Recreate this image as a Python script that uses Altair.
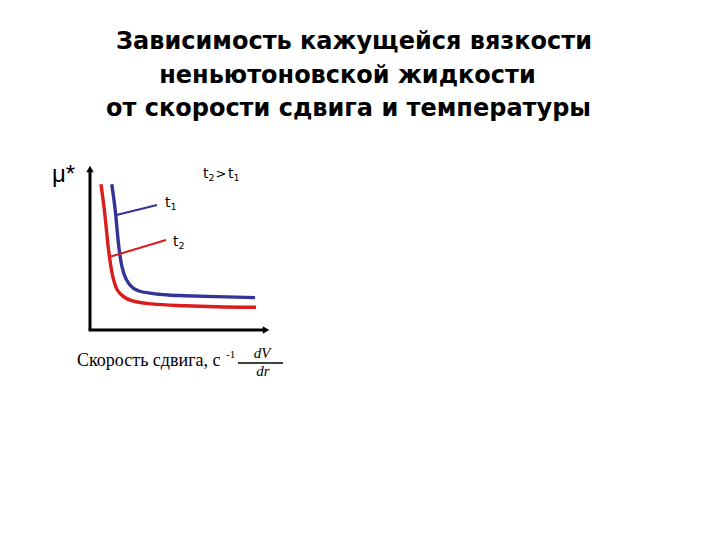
import altair as alt
import pandas as pd

# ---- data -------------------------------------------------------------
title_lines = ["Зависимость кажущейся вязкости",
               "неньютоновской жидкости",
               "от скорости сдвига и температуры"]

series_names = ["t1", "t2"]
series_colors = ["#333399", "#DC1C1C"]

# shear rate (arbitrary units) vs apparent viscosity (arbitrary units)
shear_t1 = [1.21, 1.43, 1.57, 1.72, 1.91, 2.22, 2.68, 3.43, 4.35, 5.28, 7.04, 9.17]
visc_t1 = [8.83, 6.97, 5.35, 4.14, 3.33, 2.73, 2.38, 2.22, 2.12, 2.08, 2.02, 1.96]

shear_t2 = [0.61, 0.83, 1.02, 1.21, 1.43, 1.76, 2.32, 3.43, 5.28, 7.04, 9.22]
visc_t2 = [8.83, 6.97, 4.95, 3.53, 2.62, 2.12, 1.78, 1.58, 1.47, 1.41, 1.38]

axis_min = 0
axis_max = 10

# ---- tables -----------------------------------------------------------
curves = pd.DataFrame({
    "shear": shear_t1 + shear_t2,
    "visc": visc_t1 + visc_t2,
    "series": [series_names[0]] * len(shear_t1) + [series_names[1]] * len(shear_t2),
    "order": list(range(len(shear_t1))) + list(range(len(shear_t2))),
})

xs = alt.Scale(domain=[0, 10], range=[82, 262], nice=False, zero=False)
ys = alt.Scale(domain=[0, 10], range=[322, 157], nice=False, zero=False)

base = alt.Chart(curves)

# axes
yaxis_line = alt.Chart(pd.DataFrame({"x": [axis_min], "y": [axis_min], "y2": [axis_max - 0.24]})).mark_rule(
    color="black", strokeWidth=3).encode(
    x=alt.X("x:Q", scale=xs, axis=None),
    y=alt.Y("y:Q", scale=ys, axis=None),
    y2="y2:Q")
xaxis_line = alt.Chart(pd.DataFrame({"x": [axis_min - 0.08], "x2": [axis_max - 0.22], "y": [axis_min]})).mark_rule(
    color="black", strokeWidth=3).encode(
    x=alt.X("x:Q", scale=xs, axis=None),
    x2="x2:Q",
    y=alt.Y("y:Q", scale=ys, axis=None))
arrow_up = alt.Chart(pd.DataFrame({"x": [axis_min], "y": [axis_max - 0.24]})).mark_point(
    shape="triangle-up", filled=True, color="black", size=55, opacity=1).encode(
    x=alt.X("x:Q", scale=xs, axis=None),
    y=alt.Y("y:Q", scale=ys, axis=None))
arrow_right = alt.Chart(pd.DataFrame({"x": [axis_max - 0.22], "y": [axis_min]})).mark_point(
    shape="triangle-right", filled=True, color="black", size=55, opacity=1).encode(
    x=alt.X("x:Q", scale=xs, axis=None),
    y=alt.Y("y:Q", scale=ys, axis=None))

lines = base.mark_line(strokeWidth=3.4, interpolate="monotone").encode(
    x=alt.X("shear:Q", scale=xs, axis=None),
    y=alt.Y("visc:Q", scale=ys, axis=None),
    color=alt.Color("series:N", scale=alt.Scale(domain=series_names, range=series_colors), legend=None),
    order="order:Q",
    detail="series:N",
)

# leader lines for labels
lead_t1 = alt.Chart(pd.DataFrame({"a": [0]})).mark_rule(color=series_colors[0], strokeWidth=2).encode(
    x=alt.value(108.5), y=alt.value(207), x2=alt.value(149), y2=alt.value(197))
lead_t2 = alt.Chart(pd.DataFrame({"a": [0]})).mark_rule(color=series_colors[1], strokeWidth=2).encode(
    x=alt.value(103), y=alt.value(248.5), x2=alt.value(158), y2=alt.value(232))
frac_line = alt.Chart(pd.DataFrame({"a": [0]})).mark_rule(color="black", strokeWidth=1.3).encode(
    x=alt.value(230), y=alt.value(355), x2=alt.value(275), y2=alt.value(355))


def txt(text, x, y, size, font="DejaVu Sans", weight="normal", align="left",
        baseline="alphabetic", style="normal"):
    return alt.Chart(pd.DataFrame({"t": [text]})).mark_text(
        font=font, fontSize=size, fontWeight=weight, align=align, baseline=baseline,
        fontStyle=style, color="black").encode(
        text="t:N", x=alt.value(x), y=alt.value(y))


texts = [
    txt(title_lines[0], 346, 41, 24, weight="bold", align="center"),
    txt(title_lines[1], 339.5, 75, 24, weight="bold", align="center"),
    txt(title_lines[2], 340.5, 108, 24, weight="bold", align="center"),
    txt("\u03bc*", 44, 174, 24, font="Liberation Sans"),
    # t2 > t1
    txt("t", 195, 170, 14), txt("2", 200.5, 173, 9.5), txt(">", 207.5, 170, 13),
    txt("t", 220, 170, 14), txt("1", 225.5, 173, 9.5),
    # t1 label
    txt("t", 157, 199, 14), txt("1", 162.5, 202, 9.5),
    # t2 label
    txt("t", 165, 238, 14), txt("2", 170.5, 241, 9.5),
    # x label
    txt("Скорость сдвига, с", 69, 358, 18, font="Liberation Serif"),
    txt("-1", 218, 350, 11, font="Liberation Serif"),
    txt("dV", 254, 350, 15, font="Liberation Serif", align="center", style="italic"),
    txt("dr", 255, 368, 15, font="Liberation Serif", align="center", style="italic"),
]

chart = alt.layer(
    yaxis_line, xaxis_line, arrow_up, arrow_right, lines, lead_t1, lead_t2, frac_line, *texts
).properties(
    width=704, height=524, autosize=alt.AutoSizeParams(type="none"), padding=0,
    background="white"
).configure_view(stroke=None)

chart.save("out.html", embed_options={"renderer": "svg", "actions": False})
